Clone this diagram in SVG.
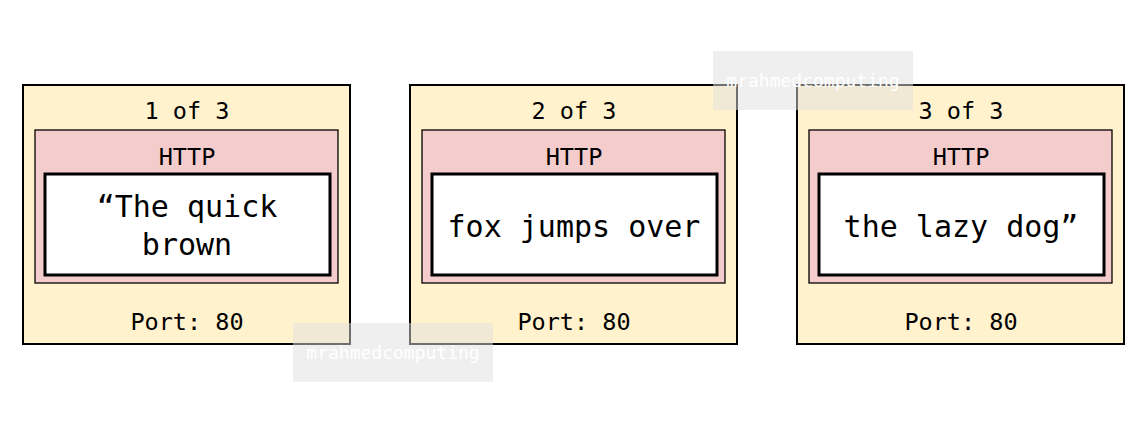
<svg xmlns="http://www.w3.org/2000/svg" width="1148" height="430" viewBox="0 0 1148 430">
<style>
.outer{fill:#fff2cc;stroke:#000;stroke-width:2}
.http{fill:#f4cccc;stroke:#000;stroke-width:1.3}
.data{fill:#fff;stroke:#000;stroke-width:3}
.lbl{font-family:"DejaVu Sans Mono","Liberation Mono",monospace;font-size:23.5px;fill:#000;text-anchor:middle}
.big{font-family:"DejaVu Sans Mono","Liberation Mono",monospace;font-size:30px;fill:#000;text-anchor:middle}
.wm rect{fill:#e0e0e0;opacity:0.5}
.wm text{font-family:"DejaVu Sans Mono","Liberation Mono",monospace;font-size:18px;fill:#fff;text-anchor:middle}
</style>
<rect width="1148" height="430" fill="#fff"/>
<g id="packet1">
<rect class="outer" x="23" y="85" width="327" height="259"/>
<text class="lbl" x="187" y="119">1 of 3</text>
<rect class="http" x="35" y="130" width="303" height="153"/>
<text class="lbl" x="187" y="165">HTTP</text>
<rect class="data" x="45" y="174" width="285" height="101"/>
<text class="big" x="187" y="217">“The quick</text>
<text class="big" x="187" y="255">brown</text>
<text class="lbl" x="187" y="330">Port: 80</text>
</g>
<g id="packet2">
<rect class="outer" x="410" y="85" width="327" height="259"/>
<text class="lbl" x="574" y="119">2 of 3</text>
<rect class="http" x="422" y="130" width="303" height="153"/>
<text class="lbl" x="574" y="165">HTTP</text>
<rect class="data" x="432" y="174" width="285" height="101"/>
<text class="big" x="574" y="237">fox jumps over</text>
<text class="lbl" x="574" y="330">Port: 80</text>
</g>
<g id="packet3">
<rect class="outer" x="797" y="85" width="327" height="259"/>
<text class="lbl" x="961" y="119">3 of 3</text>
<rect class="http" x="809" y="130" width="303" height="153"/>
<text class="lbl" x="961" y="165">HTTP</text>
<rect class="data" x="819" y="174" width="285" height="101"/>
<text class="big" x="961" y="237">the lazy dog”</text>
<text class="lbl" x="961" y="330">Port: 80</text>
</g>
<g id="connectors"></g>
<g class="wm" id="watermark1">
<rect x="713" y="51" width="200" height="59"/>
<text x="813" y="87">mrahmedcomputing</text>
</g>
<g class="wm" id="watermark2">
<rect x="293" y="323" width="200" height="59"/>
<text x="393" y="359">mrahmedcomputing</text>
</g>
</svg>
